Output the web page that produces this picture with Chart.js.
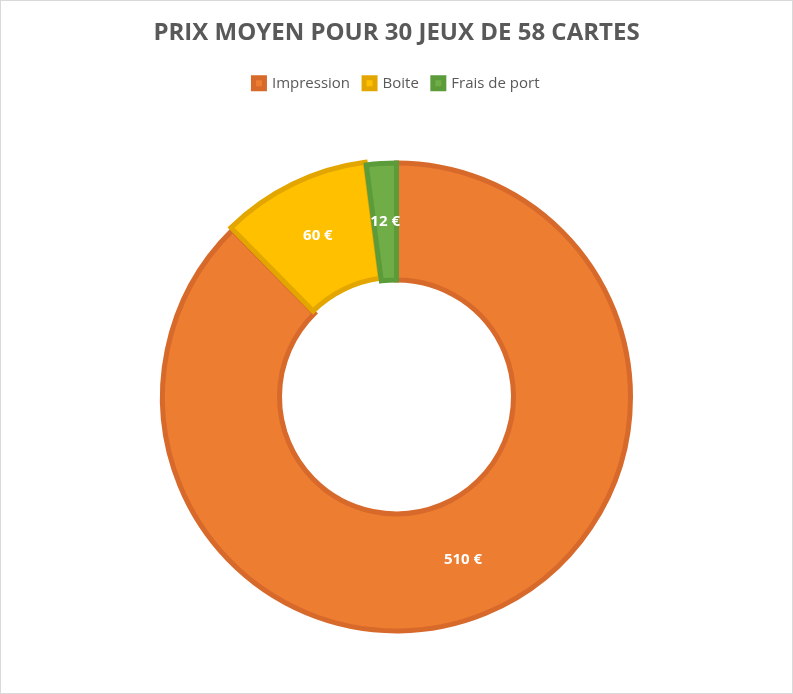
<!DOCTYPE html>
<html>
<head>
<meta charset="utf-8">
<script src="https://cdn.jsdelivr.net/npm/chart.js@4"></script>
<style>
  body { margin: 0; background: #fff; }
  #wrap { width: 791px; height: 692px; border: 1px solid #d9d9d9; position: relative; }
</style>
</head>
<body>
<div id="wrap"><canvas id="c"></canvas></div>
<script>
var categories = ["Impression", "Boite", "Frais de port"];
var prices = [510, 60, 12];
var labelsText = ["510 €", "60 €", "12 €"];

// writes the value inside each slice
var sliceLabels = {
  id: "sliceLabels",
  afterDatasetsDraw: function(chart) {
    var ctx = chart.ctx;
    var meta = chart.getDatasetMeta(0);
    ctx.save();
    ctx.fillStyle = "#fff";
    ctx.font = "bold 15px 'Open Sans'";
    ctx.textAlign = "center";
    ctx.textBaseline = "middle";
    meta.data.forEach(function(arc, i) {
      var p = arc.tooltipPosition();
      ctx.fillText(labelsText[i], p.x, p.y);
    });
    ctx.restore();
  }
};

new Chart(document.getElementById("c"), {
  type: "doughnut",
  data: {
    labels: categories,
    datasets: [{
      data: prices,
      backgroundColor: ["#ED7D31", "#FFC000", "#70AD47"],
      borderColor: ["#D7692B", "#E3A600", "#5B9B3A"],
      borderWidth: 5,
      offset: [0, 8, 0],
      radius: 234,
      cutout: "50%",
      borderJoinStyle: "miter"
    }]
  },
  options: {
    responsive: true,
    maintainAspectRatio: false,
    animation: false,
    layout: { padding: { bottom: 0 } },
    plugins: {
      title: {
        display: true,
        text: "PRIX MOYEN POUR 30 JEUX DE 58 CARTES",
        color: "#595959",
        font: { family: "Open Sans", size: 24, weight: "bold" },
        padding: { top: 18, bottom: 14 }
      },
      legend: {
        position: "top",
        labels: {
          color: "#595959",
          font: { family: "Open Sans", size: 15 },
          boxWidth: 11,
          boxHeight: 11,
          padding: 14
        }
      },
      tooltip: { enabled: false }
    }
  },
  plugins: [sliceLabels]
});
</script>
</body>
</html>
